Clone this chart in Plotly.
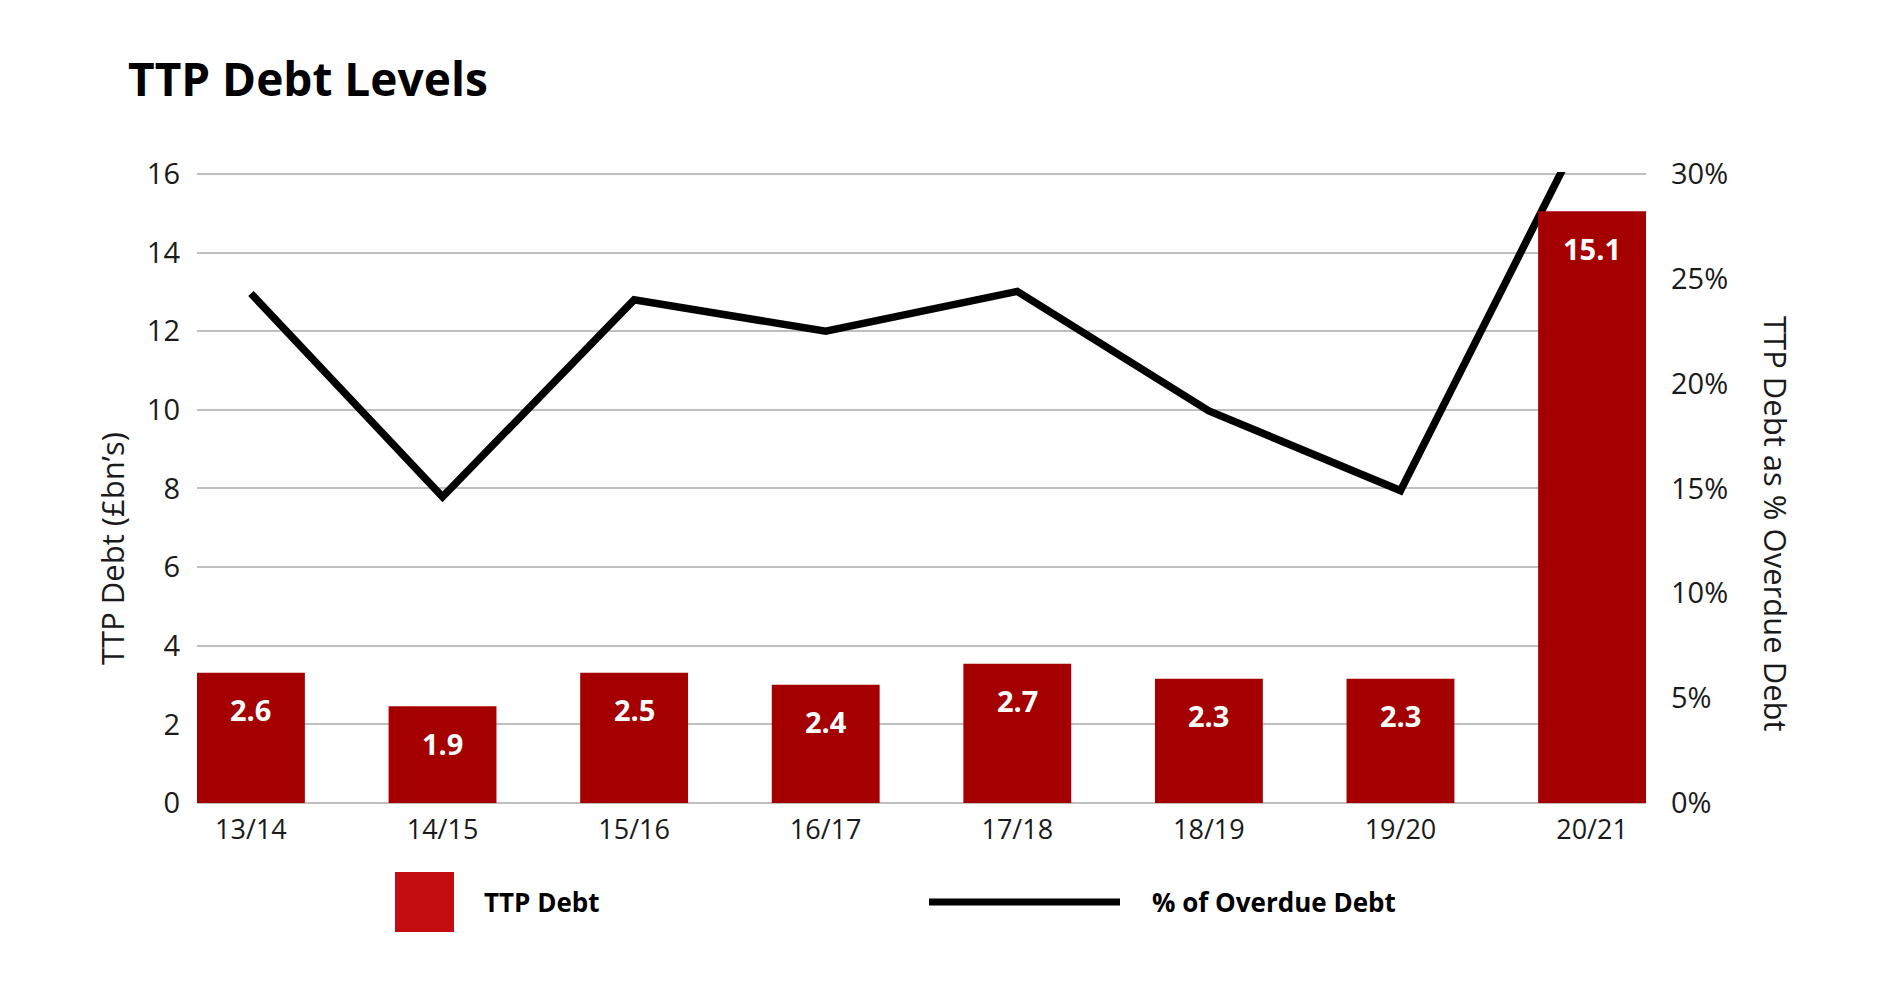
import plotly.graph_objects as go

# ---- data ----
years = ["13/14", "14/15", "15/16", "16/17", "17/18", "18/19", "19/20", "20/21"]
ttp_debt_drawn = [3.31, 2.46, 3.31, 3.01, 3.54, 3.16, 3.16, 15.05]   # bar heights as drawn (£bn)
ttp_debt_labels = ["2.6", "1.9", "2.5", "2.4", "2.7", "2.3", "2.3", "15.1"]
pct_overdue = [24.3, 14.6, 24.0, 22.5, 24.4, 18.7, 14.9, 33.0]       # % of overdue debt

left_ticks = [0, 2, 4, 6, 8, 10, 12, 14, 16]
right_ticks = [0, 5, 10, 15, 20, 25, 30]
right_tick_text = ["0%", "5%", "10%", "15%", "20%", "25%", "30%"]

BAR_RED = "#A50000"
LEG_RED = "#C20C10"
GRID = "#bfbfbf"
TXT = "#1a1a1a"
FONT = "Open Sans"

W, H = 1888, 1000
L, R, T, B = 197, 1646, 172, 803   # plot area in pixels
LEFT_TOP = 16.05                     # tiny headroom so the top gridline is drawn
RIGHT_TOP = LEFT_TOP / 16 * 30


def px(x):
    return (x - L) / (R - L)


def py(y):
    return (B - y) / (B - T)


fig = go.Figure()

fig.add_trace(go.Scatter(
    x=years, y=pct_overdue, mode="lines", name="% of Overdue Debt",
    line=dict(color="black", width=7.5), xaxis="x", yaxis="y",
    showlegend=False, hoverinfo="skip",
))
fig.add_trace(go.Bar(
    x=years, y=ttp_debt_drawn, name="TTP Debt",
    marker=dict(color=BAR_RED, line=dict(width=0)),
    xaxis="x", yaxis="y2", showlegend=False,
))

annotations = []
for cat, h, lab in zip(years, ttp_debt_drawn, ttp_debt_labels):
    annotations.append(dict(
        x=cat, y=h, xref="x", yref="y2", text=lab, showarrow=False,
        yshift=-37, yanchor="middle",
        font=dict(family=FONT, size=29, color="white", weight="bold"),
    ))

# axis titles
annotations.append(dict(
    x=px(112), y=py(549), xref="paper", yref="paper", text="TTP Debt (£bn’s)",
    textangle=-90, showarrow=False, xanchor="center", yanchor="middle",
    font=dict(family=FONT, size=31, color=TXT),
))
annotations.append(dict(
    x=px(1776), y=py(524), xref="paper", yref="paper", text="TTP Debt as % Overdue Debt",
    textangle=90, showarrow=False, xanchor="center", yanchor="middle",
    font=dict(family=FONT, size=31, color=TXT),
))

# legend (drawn manually to match large swatches)
annotations.append(dict(
    x=px(482), y=py(902), xref="paper", yref="paper", text="TTP Debt",
    showarrow=False, xanchor="left", yanchor="middle",
    font=dict(family=FONT, size=26, color="black", weight="bold"),
))
annotations.append(dict(
    x=px(1150), y=py(902), xref="paper", yref="paper", text="% of Overdue Debt",
    showarrow=False, xanchor="left", yanchor="middle",
    font=dict(family=FONT, size=26, color="black", weight="bold"),
))

shapes = [
    dict(type="rect", xref="paper", yref="paper",
         x0=px(395), x1=px(454), y0=py(932), y1=py(872),
         fillcolor=LEG_RED, line=dict(width=0)),
    dict(type="line", xref="paper", yref="paper",
         x0=px(929), x1=px(1120), y0=py(902), y1=py(902),
         line=dict(color="black", width=7)),
]

fig.update_layout(
    width=W, height=H,
    margin=dict(l=L, r=W - R, t=T, b=H - B),
    paper_bgcolor="white", plot_bgcolor="white",
    font=dict(family=FONT, color=TXT),
    title=dict(text="TTP Debt Levels", x=128 / W, xref="container", xanchor="left",
               y=1 - 80 / H, yref="container", yanchor="middle",
               font=dict(family=FONT, size=46, color="black", weight="bold")),
    bargap=0.437,
    xaxis=dict(type="category", range=[-0.2815, 7.2815], showgrid=False, showline=False,
               zeroline=False, ticks="", tickfont=dict(size=27, color=TXT, family=FONT),
               ticklabelstandoff=8, fixedrange=True),
    yaxis=dict(side="right", range=[0, RIGHT_TOP], tickvals=right_ticks, ticktext=right_tick_text,
               showgrid=False, zeroline=False, showline=False, ticks="",
               tickfont=dict(size=29, color=TXT, family=FONT), ticklabelstandoff=24),
    yaxis2=dict(overlaying="y", side="left", anchor="x", range=[0, LEFT_TOP], tickvals=left_ticks,
                showgrid=True, gridcolor=GRID, gridwidth=2,
                zeroline=True, zerolinecolor=GRID, zerolinewidth=2,
                showline=False, ticks="",
                tickfont=dict(size=29, color=TXT, family=FONT), ticklabelstandoff=16),
    annotations=annotations,
    shapes=shapes,
)

fig.write_html("out.html")
